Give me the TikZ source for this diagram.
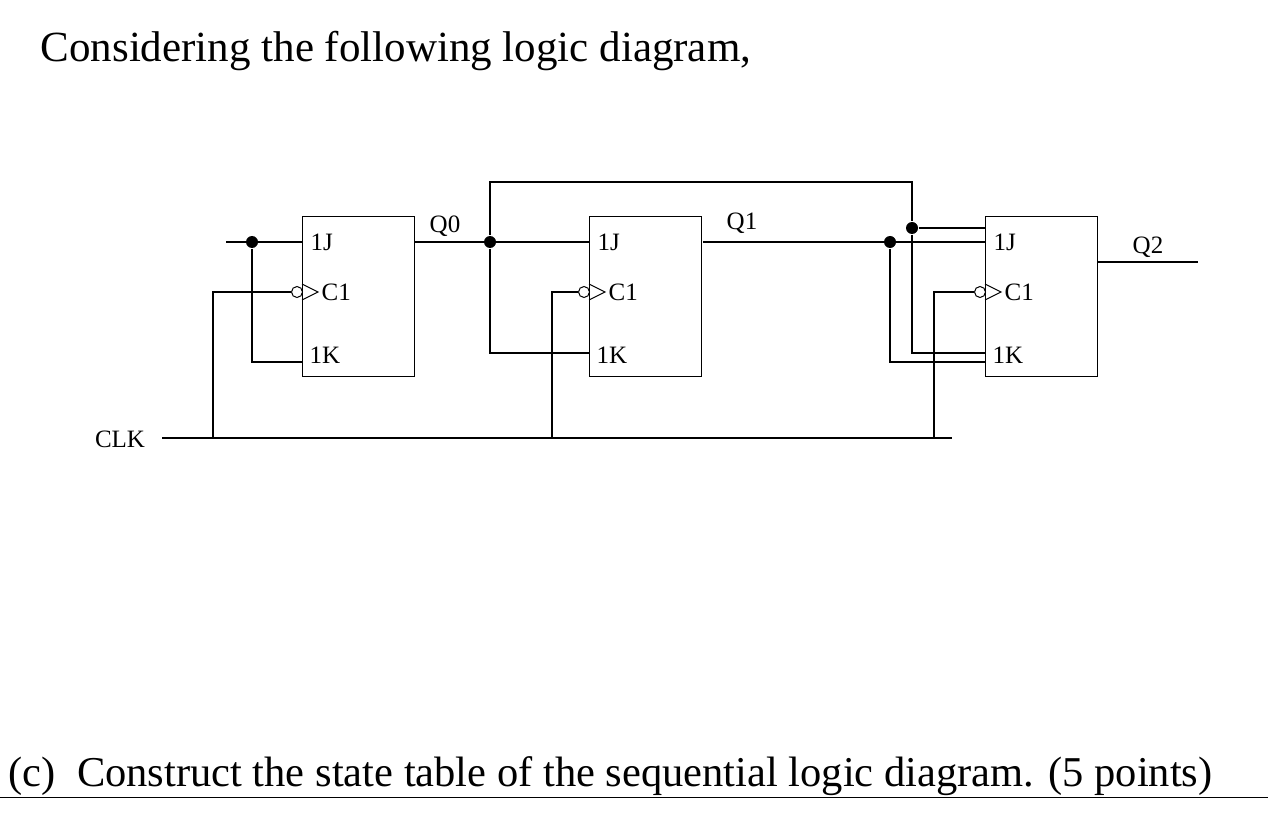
\documentclass[tikz,border=0pt]{standalone}
\usepackage{fontspec}
\setmainfont{Liberation Serif}
\begin{document}
\begin{tikzpicture}[x=1pt,y=-1pt,line width=1.2pt,
 lbl/.style={inner sep=0pt,font=\fontsize{25}{28}\selectfont},
 ff/.style={draw,minimum width=112pt,minimum height=160pt,anchor=north west,inner sep=0pt},
 dot/.style={circle,fill,inner sep=0pt,minimum size=12pt}]
\useasboundingbox (0,0) rectangle (1268,818);
\node[anchor=base west,inner sep=0pt,font=\fontsize{43}{48}\selectfont] (title) at (40,62) {Considering the following logic diagram,};
\node[anchor=base west,inner sep=0pt,font=\fontsize{42.5}{48}\selectfont] (q) at (8,786) {(c)\ \ Construct the state table of the sequential logic diagram. (5 points)};
\coordinate (r0) at (0,797); \coordinate (r1) at (1268,797);
\draw[line width=1pt] (r0)--(r1);
% boxes
\foreach \n/\x in {A/302,B/589,C/985}{
 \node[ff] (\n) at (\x,216) {};
 \node[lbl,anchor=west] (\n j) at (\x+8,242) {1J};
 \node[lbl,anchor=west] (\n c) at (\x+19,292) {C1};
 \node[lbl,anchor=west] (\n k) at (\x+7,355) {1K};
 \draw[line width=1pt] (\x,284)--(\x+16,292)--(\x,300);
 \draw[line width=1pt] (\x-5,292) circle (5.5pt);
}
\node[lbl] (clk) at (120,439) {CLK};
\node[lbl] (q0) at (445,226) {Q0};
\node[lbl] (q1) at (742,223) {Q1};
\node[lbl] (q2) at (1148,247) {Q2};
% FF0 inputs
\node[dot] (d0) at (252,242) {};
\coordinate (in0) at (226,242);
\draw (in0)--(302,242);
\draw (d0)|-(302,362);
% clock
\coordinate (c0) at (162,438); \coordinate (c1) at (952,438);
\draw (c0)--(c1);
\draw (213,438)|-(291,292);
\draw (552,438)|-(578,292);
\draw (934,438)|-(974,292);
% Q0
\node[dot] (d1) at (490,242) {};
\draw (414,242)--(589,242);
\draw (d1)|-(589,353);
\node[dot] (d3) at (912,228) {};
\draw (d1)--(490,182)-|(d3);
\draw (d3)--(985,228);
\draw (d3)|-(985,353);
% Q1
\node[dot] (d2) at (890,242) {};
\draw (703,242)--(985,242);
\draw (d2)|-(985,362);
% Q2
\coordinate (o2) at (1198,262);
\draw (1097,262)--(o2);
\end{tikzpicture}
\end{document}
